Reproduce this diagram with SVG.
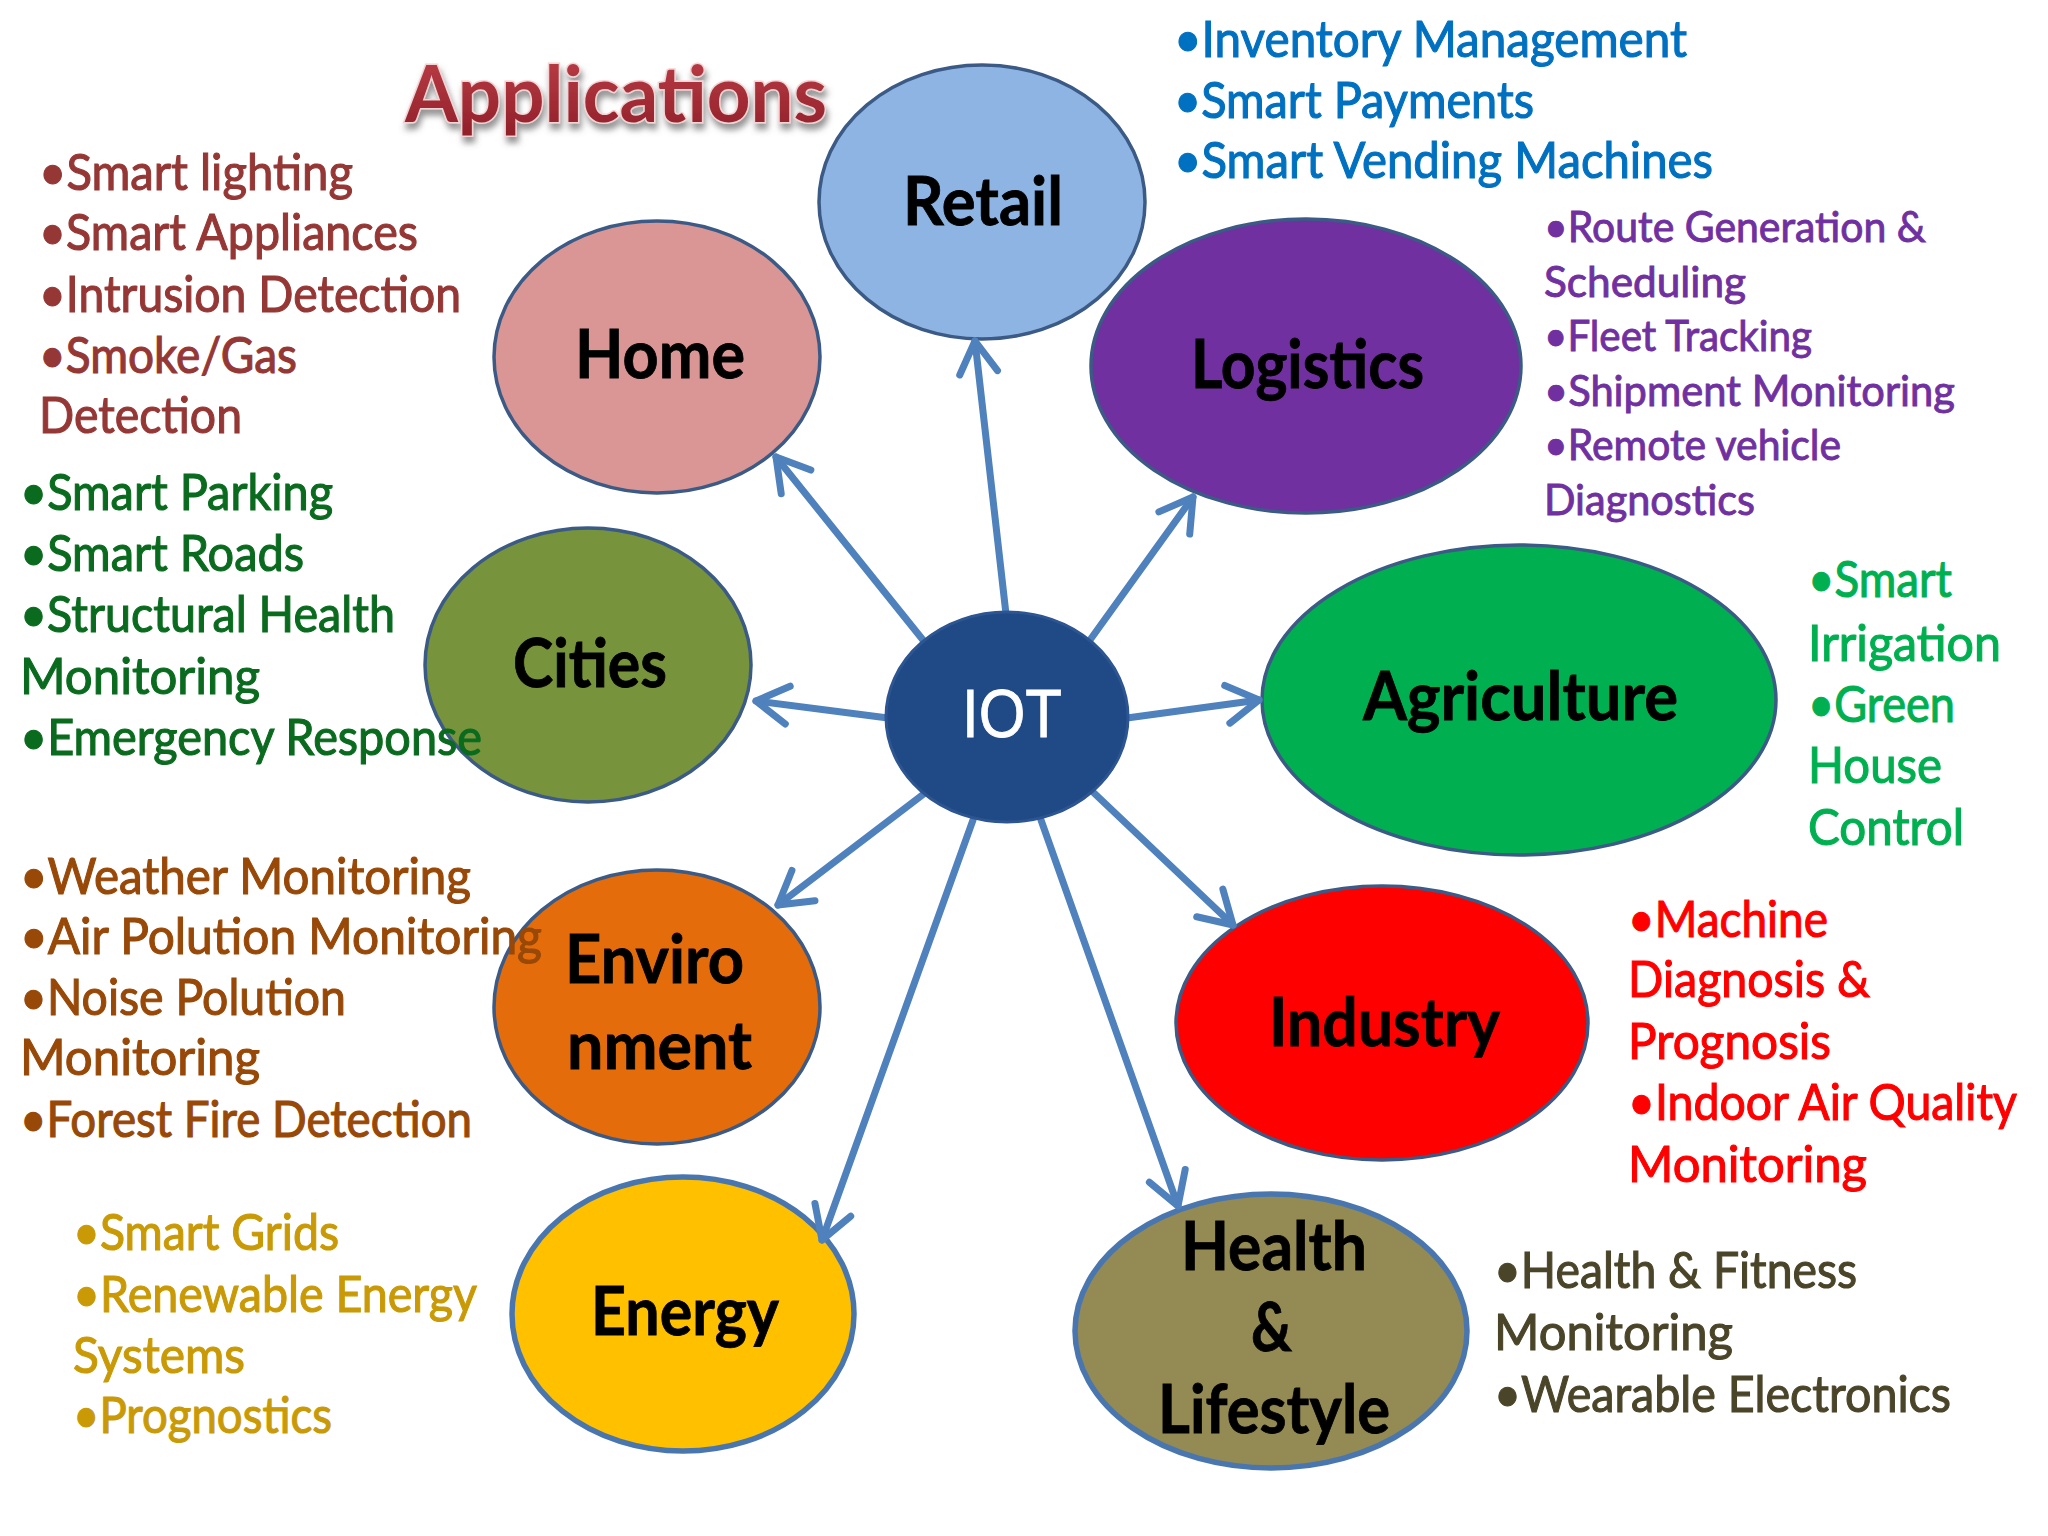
<svg xmlns="http://www.w3.org/2000/svg" width="2048" height="1536" viewBox="0 0 2048 1536">
<style>
  .node { stroke: #3B5A85; stroke-width: 3.5; }
  .node2 { stroke: #4A76B0; stroke-width: 5.5; }
  .lbl { font-family: Lato, "Liberation Sans", sans-serif; font-weight: bold; font-size: 66px; fill: #000; stroke: #000; stroke-width: 0.8; }
  .b50 { font-family: Lato, "Liberation Sans", sans-serif; font-size: 50px; stroke-width: 1.1; }
  .b42 { font-family: Lato, "Liberation Sans", sans-serif; font-size: 42px; stroke-width: 0.9; }
  .conn { stroke: #4F81BD; stroke-width: 7; fill: none; stroke-linecap: round; marker-end: url(#arrow); }
</style>
<defs>
  <marker id="arrow" markerUnits="userSpaceOnUse" viewBox="0 0 50 50" markerWidth="50" markerHeight="50" refX="44" refY="25" orient="auto">
    <path d="M12,6 L44,25 L12,44" fill="none" stroke="#4F81BD" stroke-width="7" stroke-linecap="round" stroke-linejoin="round"/>
  </marker>
  <filter id="shadow" x="-10%" y="-30%" width="120%" height="170%">
    <feDropShadow dx="2" dy="6" stdDeviation="3" flood-color="#666" flood-opacity="0.7"/>
  </filter>
  <linearGradient id="titleGrad" x1="0" y1="0" x2="0" y2="1">
    <stop offset="0" stop-color="#C0404A"/>
    <stop offset="1" stop-color="#8E1F28"/>
  </linearGradient>
</defs>
<rect width="2048" height="1536" fill="#fff"/>

<g id="title">
  <text x="405" y="122" textLength="422" lengthAdjust="spacingAndGlyphs" font-family="Lato, 'Liberation Sans', sans-serif" font-weight="bold" font-size="78" fill="url(#titleGrad)" stroke="#F2D4D4" stroke-width="3" paint-order="stroke" filter="url(#shadow)">Applications</text>
</g>

<g id="node-retail">
  <ellipse class="node" cx="982" cy="202" rx="163" ry="137" fill="#8EB4E3"/>
  <text class="lbl" x="903" y="225" textLength="160" lengthAdjust="spacingAndGlyphs">Retail</text>
</g>
<g id="node-home">
  <ellipse class="node" cx="657" cy="357" rx="163" ry="136" fill="#D99694"/>
  <text class="lbl" x="575" y="378" textLength="170" lengthAdjust="spacingAndGlyphs">Home</text>
</g>
<g id="node-logistics">
  <ellipse class="node" cx="1306" cy="366" rx="215" ry="147" fill="#7030A0"/>
  <text class="lbl" x="1191" y="388" textLength="233" lengthAdjust="spacingAndGlyphs">Logistics</text>
</g>
<g id="node-cities">
  <ellipse class="node" cx="588" cy="665" rx="163" ry="137" fill="#77933C"/>
  <text class="lbl" x="513" y="687" textLength="154" lengthAdjust="spacingAndGlyphs">Cities</text>
</g>
<g id="node-agriculture">
  <ellipse class="node" cx="1519" cy="700" rx="257" ry="155" fill="#00B050"/>
  <text class="lbl" x="1363" y="720" textLength="315" lengthAdjust="spacingAndGlyphs">Agriculture</text>
</g>
<g id="node-industry">
  <ellipse class="node" cx="1382" cy="1023" rx="206" ry="137" fill="#FF0000"/>
  <text class="lbl" x="1269" y="1046" textLength="231" lengthAdjust="spacingAndGlyphs">Industry</text>
</g>
<g id="node-environment">
  <ellipse class="node" cx="657" cy="1007" rx="163" ry="137" fill="#E46C0A"/>
  <text class="lbl" x="565" y="983" textLength="179" lengthAdjust="spacingAndGlyphs">Enviro</text>
  <text class="lbl" x="567" y="1069" textLength="185" lengthAdjust="spacingAndGlyphs">nment</text>
</g>
<g id="node-energy">
  <ellipse class="node2" cx="683" cy="1314" rx="171" ry="137" fill="#FFC000"/>
  <text class="lbl" x="591" y="1335" textLength="188" lengthAdjust="spacingAndGlyphs">Energy</text>
</g>
<g id="node-health">
  <ellipse class="node2" cx="1271" cy="1331" rx="196" ry="137" fill="#948A54"/>
  <text class="lbl" x="1181" y="1270" textLength="186" lengthAdjust="spacingAndGlyphs">Health</text>
  <text class="lbl" x="1251" y="1351" textLength="41" lengthAdjust="spacingAndGlyphs">&amp;</text>
  <text class="lbl" x="1158" y="1433" textLength="232" lengthAdjust="spacingAndGlyphs">Lifestyle</text>
</g>

<g id="connectors">
  <line class="conn" x1="923" y1="640" x2="776" y2="457"/>
  <line class="conn" x1="1006" y1="614" x2="975" y2="341"/>
  <line class="conn" x1="1090" y1="640" x2="1193" y2="497"/>
  <line class="conn" x1="888" y1="718" x2="756" y2="701"/>
  <line class="conn" x1="1127" y1="718" x2="1259" y2="700"/>
  <line class="conn" x1="925" y1="793" x2="778" y2="905"/>
  <line class="conn" x1="1094" y1="793" x2="1233" y2="925"/>
  <line class="conn" x1="973" y1="820" x2="822" y2="1240"/>
  <line class="conn" x1="1041" y1="820" x2="1178" y2="1206"/>
</g>

<g id="node-iot">
  <ellipse cx="1007" cy="717" rx="121" ry="105" fill="#1F4A85" stroke="#2C5591" stroke-width="3"/>
  <text x="962" y="737" textLength="100" lengthAdjust="spacingAndGlyphs" font-family="'Liberation Sans', Arial, sans-serif" font-size="68" fill="#fff" stroke="#fff" stroke-width="0.8">IOT</text>
</g>

<g id="list-home" class="b50" fill="#953735" stroke="#953735">
  <text x="39" y="190" textLength="314" lengthAdjust="spacingAndGlyphs">•Smart lighting</text>
  <text x="39" y="250" textLength="379" lengthAdjust="spacingAndGlyphs">•Smart Appliances</text>
  <text x="39" y="312" textLength="422" lengthAdjust="spacingAndGlyphs">•Intrusion Detection</text>
  <text x="39" y="373" textLength="258" lengthAdjust="spacingAndGlyphs">•Smoke/Gas</text>
  <text x="39" y="433" textLength="203" lengthAdjust="spacingAndGlyphs">Detection</text>
</g>
<g id="list-retail" class="b50" fill="#0070C0" stroke="#0070C0">
  <text x="1174" y="57" textLength="513" lengthAdjust="spacingAndGlyphs">•Inventory Management</text>
  <text x="1174" y="118" textLength="360" lengthAdjust="spacingAndGlyphs">•Smart Payments</text>
  <text x="1174" y="178" textLength="539" lengthAdjust="spacingAndGlyphs">•Smart Vending Machines</text>
</g>
<g id="list-logistics" class="b42" fill="#7030A0" stroke="#7030A0">
  <text x="1544" y="242" textLength="382" lengthAdjust="spacingAndGlyphs">•Route Generation &amp;</text>
  <text x="1544" y="297" textLength="202" lengthAdjust="spacingAndGlyphs">Scheduling</text>
  <text x="1544" y="351" textLength="268" lengthAdjust="spacingAndGlyphs">•Fleet Tracking</text>
  <text x="1544" y="406" textLength="411" lengthAdjust="spacingAndGlyphs">•Shipment Monitoring</text>
  <text x="1544" y="460" textLength="297" lengthAdjust="spacingAndGlyphs">•Remote vehicle</text>
  <text x="1544" y="515" textLength="211" lengthAdjust="spacingAndGlyphs">Diagnostics</text>
</g>
<g id="list-cities" class="b50" fill="#0A6B1F" stroke="#0A6B1F">
  <text x="20" y="510" textLength="313" lengthAdjust="spacingAndGlyphs">•Smart Parking</text>
  <text x="20" y="571" textLength="284" lengthAdjust="spacingAndGlyphs">•Smart Roads</text>
  <text x="20" y="632" textLength="375" lengthAdjust="spacingAndGlyphs">•Structural Health</text>
  <text x="20" y="694" textLength="240" lengthAdjust="spacingAndGlyphs">Monitoring</text>
  <text x="20" y="755" textLength="462" lengthAdjust="spacingAndGlyphs">•Emergency Response</text>
</g>
<g id="list-environment" class="b50" fill="#984807" stroke="#984807">
  <text x="20" y="894" textLength="451" lengthAdjust="spacingAndGlyphs">•Weather Monitoring</text>
  <text x="20" y="954" textLength="522" lengthAdjust="spacingAndGlyphs">•Air Polution Monitoring</text>
  <text x="20" y="1015" textLength="326" lengthAdjust="spacingAndGlyphs">•Noise Polution</text>
  <text x="20" y="1075" textLength="240" lengthAdjust="spacingAndGlyphs">Monitoring</text>
  <text x="20" y="1137" textLength="452" lengthAdjust="spacingAndGlyphs">•Forest Fire Detection</text>
</g>
<g id="list-energy" class="b50" fill="#C99A06" stroke="#C99A06">
  <text x="73" y="1250" textLength="266" lengthAdjust="spacingAndGlyphs">•Smart Grids</text>
  <text x="73" y="1312" textLength="404" lengthAdjust="spacingAndGlyphs">•Renewable Energy</text>
  <text x="73" y="1373" textLength="172" lengthAdjust="spacingAndGlyphs">Systems</text>
  <text x="73" y="1433" textLength="259" lengthAdjust="spacingAndGlyphs">•Prognostics</text>
</g>
<g id="list-agriculture" class="b50" fill="#00B050" stroke="#00B050">
  <text x="1808" y="597" textLength="144" lengthAdjust="spacingAndGlyphs">•Smart</text>
  <text x="1808" y="661" textLength="193" lengthAdjust="spacingAndGlyphs">Irrigation</text>
  <text x="1808" y="722" textLength="147" lengthAdjust="spacingAndGlyphs">•Green</text>
  <text x="1808" y="783" textLength="134" lengthAdjust="spacingAndGlyphs">House</text>
  <text x="1808" y="845" textLength="156" lengthAdjust="spacingAndGlyphs">Control</text>
</g>
<g id="list-industry" class="b50" fill="#FF0000" stroke="#FF0000">
  <text x="1628" y="937" textLength="200" lengthAdjust="spacingAndGlyphs">•Machine</text>
  <text x="1628" y="997" textLength="242" lengthAdjust="spacingAndGlyphs">Diagnosis &amp;</text>
  <text x="1628" y="1059" textLength="203" lengthAdjust="spacingAndGlyphs">Prognosis</text>
  <text x="1628" y="1120" textLength="389" lengthAdjust="spacingAndGlyphs">•Indoor Air Quality</text>
  <text x="1628" y="1182" textLength="239" lengthAdjust="spacingAndGlyphs">Monitoring</text>
</g>
<g id="list-health" class="b50" fill="#4A4529" stroke="#4A4529">
  <text x="1494" y="1288" textLength="363" lengthAdjust="spacingAndGlyphs">•Health &amp; Fitness</text>
  <text x="1494" y="1350" textLength="239" lengthAdjust="spacingAndGlyphs">Monitoring</text>
  <text x="1494" y="1412" textLength="457" lengthAdjust="spacingAndGlyphs">•Wearable Electronics</text>
</g>
</svg>
